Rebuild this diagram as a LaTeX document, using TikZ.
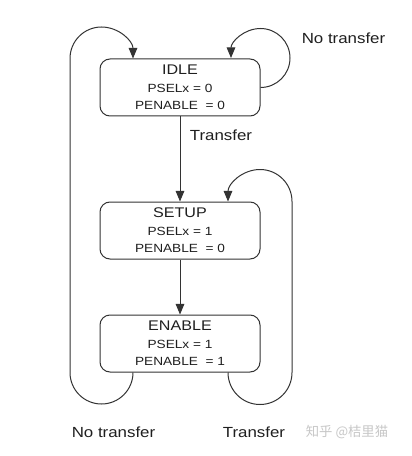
\documentclass[tikz,border=0pt]{standalone}
\usepackage{fontspec}
\setmainfont{Liberation Sans}[FakeStretch=1.15]
\newfontfamily\cjk{Noto Sans CJK SC}
\usetikzlibrary{arrows.meta,calc}
\begin{document}
\begin{tikzpicture}[x=0.75pt,y=-0.75pt,
  line width=0.75pt,
  state/.style={draw=black!80, rounded corners=7.5pt, minimum width=120pt,
    minimum height=42.75pt, inner sep=0pt, align=center,
    font=\fontsize{8.9}{13}\selectfont, text=black!88},
  conn/.style={draw=black!80, -{Triangle[length=8pt,width=6.5pt]}},
  lbl/.style={font=\fontsize{11}{13}\selectfont, text=black!88},
  ttl/.style={}]
\useasboundingbox (0,0) rectangle (411,456);
\fill[white] (0,0) rectangle (411,456);

\node[state] (idle) at (180,87.5) {{\fontsize{10.5}{13}\selectfont IDLE}\\PSELx = 0\\PENABLE\ \ = 0};
\node[state] (setup) at (180,230.5) {{\fontsize{10.5}{13}\selectfont SETUP}\\PSELx = 1\\PENABLE\ \ = 0};
\node[state] (enable) at (180,343.5) {{\fontsize{10.5}{13}\selectfont ENABLE}\\PSELx = 1\\PENABLE\ \ = 1};

\draw[conn] (idle) -- (setup);
\draw[conn] (setup) -- (enable);

% IDLE self loop
\draw[conn] (idle.east) arc[start angle=90, end angle=-180, radius=29.5];

% ENABLE -> IDLE (no transfer)
\draw[conn] ($(enable.south)+(-47,0)$) arc[start angle=0, end angle=180, radius=31.5]
  -- ($(idle.north)+(-110,0)$) arc[start angle=180, end angle=360, radius=31.5];

% ENABLE -> SETUP (transfer)
\draw[conn] ($(enable.south)+(48,0)$) arc[start angle=180, end angle=0, radius=32]
  -- ($(setup.north)+(112,0)$) arc[start angle=0, end angle=-180, radius=32];

\node[lbl] (l1) at (343.5,38) {No transfer};
\node[lbl] (l2) at (221,135) {Transfer};
\node[lbl] (l3) at (113.5,432) {No transfer};
\node[lbl] (l4) at (254,432) {Transfer};
\node[font=\cjk\fontsize{10}{12}\selectfont, text=black!22] (wm) at (347,432) {知乎 @桔里猫};
\end{tikzpicture}
\end{document}
